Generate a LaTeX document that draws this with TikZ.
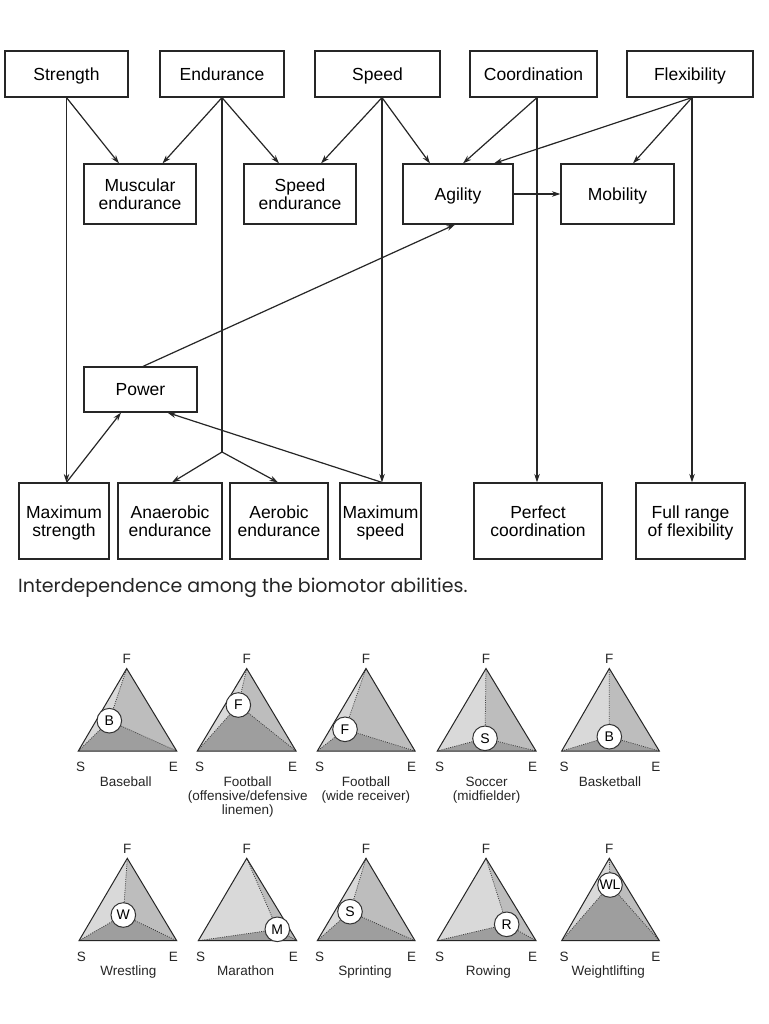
\documentclass[tikz,border=0pt]{standalone}
\usepackage{fontspec}
\setmainfont{Liberation Sans}
\newfontfamily\capfont{Poppins}
\usetikzlibrary{arrows.meta,calc}
\tikzset{
  box/.style={draw=black!85, line width=1.2pt, fill=white, align=center, inner sep=0pt, text depth=0pt,
    font=\fontsize{17.5}{18}\selectfont},
  conn/.style={draw=black!85, line width=1.2pt, -{Stealth[length=8.5pt,width=5.5pt]}},
  plain/.style={draw=black!85, line width=1.2pt},
  lt/.style={fill=black!15},
  md/.style={fill=black!26},
  dk/.style={fill=black!38},
  dotline/.style={draw=black!75, line width=0.75pt, dash pattern=on 1pt off 1.2pt},
  triedge/.style={draw=black!85, line width=1pt, line join=miter},
  ptc/.style={circle, draw=black!80, line width=1pt, fill=white, minimum size=24.6pt, inner sep=0pt,
    font=\fontsize{14}{14}\selectfont},
  lab/.style={inner sep=0pt, font=\fontsize{13.5}{13.5}\selectfont, text=black!85},
  sportcap/.style={inner sep=0pt, anchor=base, font=\fontsize{13.5}{14}\selectfont, text=black!85},
}
\newcommand\sporttri[9]{%
  \coordinate (#9S) at (#1,#5); \coordinate (#9E) at (#2,#5); \coordinate (#9F) at (#3,#4); \coordinate (#9P) at (#6,#7);
  \fill[lt] (#9S)--(#9F)--(#9P)--cycle;
  \fill[md] (#9F)--(#9E)--(#9P)--cycle;
  \fill[dk] (#9S)--(#9E)--(#9P)--cycle;
  \draw[dotline] (#9P)--(#9S) (#9P)--(#9F) (#9P)--(#9E);
  \draw[triedge] (#9S)--(#9F)--(#9E)--cycle;
  \node[ptc] (#9pt) at (#9P) {#8};
  \node[lab] (#9lf) at ($(#9F)+(0,-9.5)$) {F};
  \node[lab] (#9ls) at ($(#9S)+(2.4,15.7)$) {S};
  \node[lab] (#9le) at ($(#9E)+(-3.4,15.7)$) {E};
}
\begin{document}
\begin{tikzpicture}[x=1pt,y=-1pt]
\useasboundingbox[fill=white] (0,0) rectangle (768,1024);
% top row
\node[box, minimum width=123pt, minimum height=46pt] (str) at (66.5,74) {Strength};
\node[box, minimum width=124pt, minimum height=46pt] (end) at (222,74) {Endurance};
\node[box, minimum width=125pt, minimum height=46pt] (spd) at (377.5,74) {Speed};
\node[box, minimum width=127pt, minimum height=46pt] (coo) at (533.5,74) {Coordination};
\node[box, minimum width=126pt, minimum height=46pt] (flx) at (690,74) {Flexibility};
% second row
\node[box, minimum width=112pt, minimum height=60pt] (mus) at (140,194) {Muscular\\endurance};
\node[box, minimum width=112pt, minimum height=60pt] (spe) at (300,194) {Speed\\endurance};
\node[box, minimum width=110pt, minimum height=60pt] (agi) at (458,194) {Agility};
\node[box, minimum width=113pt, minimum height=60pt] (mob) at (617.5,194) {Mobility};
% power
\node[box, minimum width=113pt, minimum height=45pt] (pow) at (140.5,389.5) {Power};
% bottom row
\node[box, minimum width=90pt, minimum height=76pt] (mxs) at (64,521) {Maximum\\strength};
\node[box, minimum width=104pt, minimum height=76pt] (ana) at (170,521) {Anaerobic\\endurance};
\node[box, minimum width=98pt, minimum height=76pt] (aer) at (279,521) {Aerobic\\endurance};
\node[box, minimum width=81pt, minimum height=76pt] (mxp) at (380.5,521) {Maximum\\speed};
\node[box, minimum width=128pt, minimum height=76pt] (pco) at (538,521) {Perfect\\coordination};
\node[box, minimum width=109pt, minimum height=76pt] (frf) at (690.5,521) {Full range\\of flexibility};
\coordinate (junc) at (222,452);
% connectors
\draw[conn] (str.south) -- ([xshift=-21pt]mus.north);
\draw[conn] (str.south) -- ([xshift=2.5pt]mxs.north);
\draw[conn] (end.south) -- ([xshift=22.5pt]mus.north);
\draw[conn] (end.south) -- ([xshift=-21pt]spe.north);
\draw[plain] (end.south) -- (junc);
\draw[conn] (junc) -- ([xshift=2pt]ana.north);
\draw[conn] (junc) -- ([xshift=-1pt]aer.north);
\draw[conn] ([xshift=4.5pt]spd.south) -- ([xshift=21pt]spe.north);
\draw[conn] ([xshift=4.5pt]spd.south) -- ([xshift=-28pt]agi.north);
\draw[conn] ([xshift=4.5pt]spd.south) -- ([xshift=1.5pt]mxp.north);
\draw[conn] ([xshift=3.5pt]coo.south) -- ([xshift=5pt]agi.north);
\draw[conn] ([xshift=3.5pt]coo.south) -- ([xshift=-1pt]pco.north);
\draw[conn] ([xshift=2pt]flx.south) -- ([xshift=36pt]agi.north);
\draw[conn] ([xshift=2pt]flx.south) -- ([xshift=15.5pt]mob.north);
\draw[conn] ([xshift=2pt]flx.south) -- ([xshift=1.5pt]frf.north);
\draw[conn] (agi.east) -- (mob.west);
\draw[conn] ([xshift=2.5pt]pow.north) -- ([xshift=-3pt]agi.south);
\draw[conn] ([xshift=2.5pt]mxs.north) -- ([xshift=-19.5pt]pow.south);
\draw[conn] ([xshift=1.5pt]mxp.north) -- ([xshift=27pt]pow.south);
% caption
\node[anchor=base west, inner sep=0pt, font=\capfont\fontsize{19}{19}\selectfont, text=black!85] (cap) at (18,592) {Interdependence among the biomotor abilities.};
% triangles row 1
\sporttri{78.3}{176.7}{126.7}{668.5}{751}{109.3}{720.7}{B}{ta}
\sporttri{197.3}{296}{246.7}{668.5}{751}{238.3}{705}{F}{tb}
\sporttri{317.3}{415}{366}{668.5}{751}{345}{729.3}{F}{tc}
\sporttri{437.3}{536}{486}{668.5}{751}{485}{738.3}{S}{td}
\sporttri{561.7}{659.3}{609.3}{668.5}{751}{609.3}{736.7}{B}{te}
% triangles row 2
\sporttri{79}{176.7}{127.3}{858.3}{940.7}{123.3}{915}{W}{tf}
\sporttri{198.3}{296.7}{246.7}{858.3}{940.7}{277.3}{929.3}{M}{tg}
\sporttri{317.3}{415}{366}{858.3}{940.7}{350}{911.7}{S}{th}
\sporttri{437.3}{536}{486}{858.3}{940.7}{506.7}{924.3}{R}{ti}
\sporttri{561.7}{659.3}{609.3}{858.3}{940.7}{610}{885}{WL}{tj}
% sport captions
\node[sportcap] (ca1) at (125.7,786) {Baseball};
\node[sportcap] (cb1) at (247.7,786) {Football};
\node[sportcap] (cb2) at (247.7,800) {(offensive/defensive};
\node[sportcap] (cb3) at (247.7,814) {linemen)};
\node[sportcap] (cc1) at (366,786) {Football};
\node[sportcap] (cc2) at (366,800) {(wide receiver)};
\node[sportcap] (cd1) at (486.7,786) {Soccer};
\node[sportcap] (cd2) at (486.7,800) {(midfielder)};
\node[sportcap] (ce1) at (610,786) {Basketball};
\node[sportcap] (cf1) at (128.3,975) {Wrestling};
\node[sportcap] (cg1) at (245.7,975) {Marathon};
\node[sportcap] (ch1) at (365,975) {Sprinting};
\node[sportcap] (ci1) at (488.3,975) {Rowing};
\node[sportcap] (cj1) at (608.3,975) {Weightlifting};
\end{tikzpicture}
\end{document}
